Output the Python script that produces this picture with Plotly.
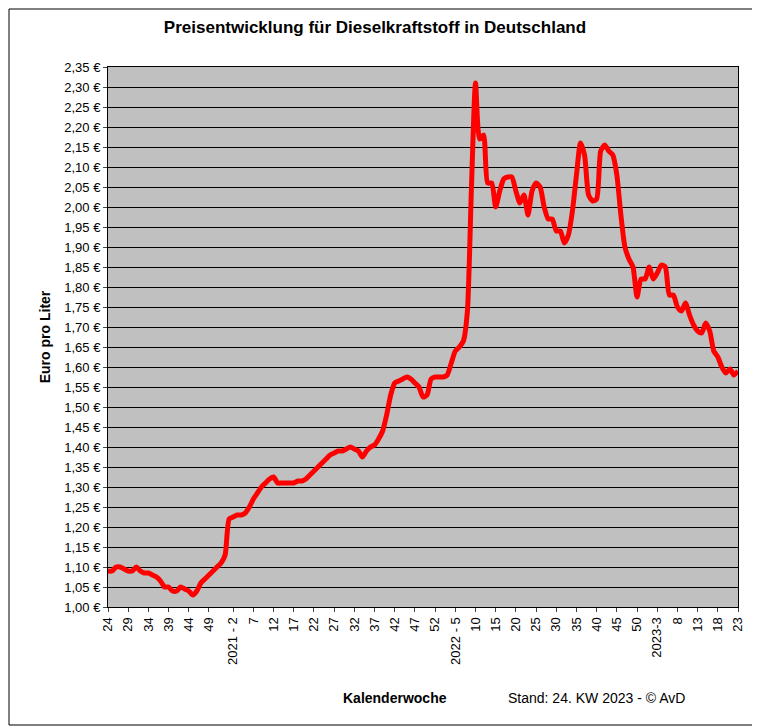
import plotly.graph_objects as go

prices_2020 = [1.09,1.09,1.10,1.10,1.095,1.09,1.09,1.10,1.09,1.085,1.085,1.08,1.075,1.065,1.05,1.05,1.04,1.04,1.05,1.045,1.04,1.03,1.04,1.06,1.07,1.08,1.09,1.10,1.11,1.13]
prices_2021 = [1.22,1.225,1.23,1.23,1.235,1.25,1.27,1.285,1.30,1.31,1.32,1.325,1.31,1.31,1.31,1.31,1.31,1.315,1.315,1.32,1.33,1.34,1.35,1.36,1.37,1.38,1.385,1.39,1.39,1.395,1.40,1.395,1.39,1.375,1.39,1.40,1.405,1.42,1.44,1.48,1.53,1.56,1.565,1.57,1.575,1.57,1.56,1.55,1.525,1.53,1.57,1.575]
prices_2022 = [1.575,1.575,1.58,1.61,1.64,1.65,1.665,1.74,2.05,2.31,2.17,2.18,2.06,2.06,2.00,2.04,2.07,2.075,2.075,2.04,2.01,2.03,1.98,2.04,2.06,2.05,2.00,1.97,1.97,1.94,1.94,1.91,1.93,1.99,2.08,2.16,2.13,2.03,2.015,2.02,2.14,2.155,2.14,2.13,2.08,1.98,1.90,1.87,1.85,1.775,1.82,1.82]
prices_2023 = [1.85,1.82,1.835,1.855,1.85,1.78,1.78,1.75,1.74,1.76,1.73,1.705,1.69,1.685,1.71,1.69,1.64,1.625,1.60,1.585,1.595,1.58,1.59]

weeks_2020 = list(range(24, 54))
weeks_2021 = list(range(1, 53))
weeks_2022 = list(range(1, 53))
weeks_2023 = list(range(1, 24))

cats = ([f"2020-{w}" for w in weeks_2020] + [f"2021-{w}" for w in weeks_2021] +
        [f"2022-{w}" for w in weeks_2022] + [f"2023-{w}" for w in weeks_2023])
vals = prices_2020 + prices_2021 + prices_2022 + prices_2023

tick_labels = ["24","29","34","39","44","49","2021 - 2","7","12","17","22","27","32","37","42","47","52",
               "2022 - 5","10","15","20","25","30","35","40","45","50","2023-3","8","13","18","23"]
tick_cats = (["2020-24","2020-29","2020-34","2020-39","2020-44","2020-49"] +
             [f"2021-{w}" for w in range(2, 53, 5)] +
             [f"2022-{w}" for w in range(5, 51, 5)] +
             [f"2023-{w}" for w in range(3, 24, 5)])

ytick = [round(1.00 + 0.05*i, 2) for i in range(28)]
ytext = [f"{v:.2f} €".replace(".", ",") for v in ytick]

L, R, T, B = 100, 22, 59, 120
PW, PH = 630, 540

fig = go.Figure(go.Scatter(x=cats, y=vals, mode="lines",
                           line=dict(color="#FF0000", width=5, shape="spline", smoothing=0.6)))
fig.update_layout(
    width=752, height=719, paper_bgcolor="white", plot_bgcolor="#C0C0C0",
    margin=dict(l=L, r=R, t=T, b=B), showlegend=False,
    font=dict(family="Liberation Sans, Arial", size=13, color="black"),
    title=dict(text="<b>Preisentwicklung für Dieselkraftstoff in Deutschland</b>", x=(375-8)/752, xanchor="center",
               y=1-(13)/719, yanchor="top", font=dict(size=17)),
    shapes=[dict(type="rect", xref="paper", yref="paper", x0=-(L-1)/PW, x1=1+(R-2)/PW, y0=-(B-2)/PH, y1=1+(T-1)/PH,
                 line=dict(color="black", width=1))],
    annotations=[
        dict(text="<b>Kalenderwoche</b>", xref="paper", yref="paper", x=(395-108)/PW, y=-(698-607)/PH,
             showarrow=False, font=dict(size=14), xanchor="center", yanchor="middle"),
        dict(text="Stand: 24. KW 2023 - © AvD", xref="paper", yref="paper", x=(506-108)/PW, y=-(698-607)/PH,
             showarrow=False, font=dict(size=14), xanchor="left", yanchor="middle"),
    ],
)
fig.update_xaxes(type="category", tickmode="array", tickvals=tick_cats, ticktext=tick_labels,
                 tickangle=-90, showgrid=False, showline=True, linecolor="black", mirror=True,
                 ticks="outside", ticklen=4, tickfont=dict(size=13))
fig.update_yaxes(range=[1.00, 2.35], tickvals=ytick, ticktext=ytext, showgrid=True, gridcolor="black",
                 gridwidth=1, showline=True, linecolor="black", mirror=True, ticks="outside", ticklen=4,
                 title=dict(text="<b>Euro pro Liter</b>", font=dict(size=14), standoff=10), tickfont=dict(size=13))
fig.write_html("out.html")
